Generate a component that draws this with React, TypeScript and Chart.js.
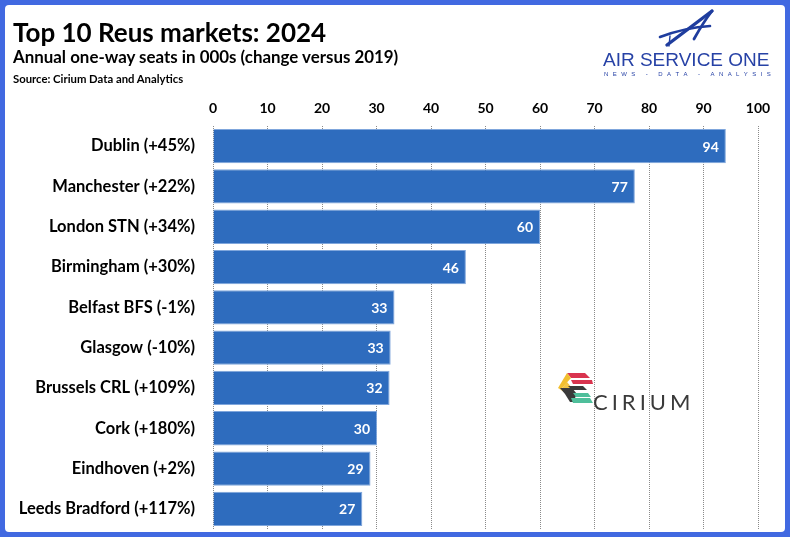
import React, { useEffect, useRef } from "react";
import { Chart, registerables } from "chart.js";

Chart.register(...registerables);

const categories = [
  "Dublin (+45%)",
  "Manchester (+22%)",
  "London STN (+34%)",
  "Birmingham (+30%)",
  "Belfast BFS (-1%)",
  "Glasgow (-10%)",
  "Brussels CRL (+109%)",
  "Cork (+180%)",
  "Eindhoven (+2%)",
  "Leeds Bradford (+117%)",
];
const seats = [94.1, 77.4, 60.0, 46.4, 33.3, 32.6, 32.4, 30.1, 28.9, 27.4];
const valueLabels = ["94", "77", "60", "46", "33", "33", "32", "30", "29", "27"];
const xMin = 0;
const xMax = 100;
const xStep = 10;

const FONT = "Lato, 'Open Sans', sans-serif";

const valueLabelPlugin = {
  id: "valueLabels",
  afterDatasetsDraw(chart: any) {
    const ctx = chart.ctx;
    const meta = chart.getDatasetMeta(0);
    ctx.save();
    ctx.font = `bold 14px ${FONT}`;
    ctx.fillStyle = "#ffffff";
    ctx.textAlign = "right";
    ctx.textBaseline = "middle";
    meta.data.forEach((el: any, i: number) => {
      ctx.fillText(valueLabels[i], el.x - 7, el.y + 1);
    });
    ctx.restore();
  },
};

function PlaneLogo() {
  return (
    <svg
      width="60"
      height="42"
      viewBox="0 0 60 42"
      style={{ position: "absolute", left: 656, top: 6 }}
    >
      <g fill="none" stroke="#1f3d9e" strokeLinecap="round" strokeLinejoin="round">
        <path d="M11 39 L56 5" strokeWidth="3.4" />
        <path d="M56 5 C49 14 43 24 38 33" strokeWidth="2.8" />
        <path d="M4 31 C20 25 38 21 54 20" strokeWidth="2.6" />
        <path d="M14 30 L13 40" strokeWidth="1.4" />
      </g>
    </svg>
  );
}

function CiriumIcon() {
  return (
    <svg
      width="36"
      height="32"
      viewBox="0 0 36 32"
      style={{ position: "absolute", left: 558, top: 372 }}
    >
      <polygon points="9,1 27,1 32,6 13,6" fill="#d9344f" />
      <polygon points="13,8 34,8 35,12 15,12" fill="#d9344f" />
      <polygon points="9,1 13,6 4,16 0,16" fill="#f2bf2f" />
      <polygon points="0,16 4,16 9,10 14,16 9,22" fill="#f2bf2f" opacity="0.9" />
      <polygon points="2,16 14,16 19,22 7,22" fill="#3a3a3a" />
      <polygon points="10,14 25,14 29,18 14,18" fill="#3a3a3a" />
      <polygon points="7,22 19,22 15,30 12,30" fill="#3a3a3a" />
      <polygon points="15,21 30,21 33,25 18,25" fill="#4fbf9b" />
      <polygon points="13,26 32,26 35,31 15,31" fill="#4fbf9b" />
    </svg>
  );
}

export default function App() {
  const canvasRef = useRef<HTMLCanvasElement | null>(null);

  useEffect(() => {
    if (!canvasRef.current) return;
    const chart = new Chart(canvasRef.current, {
      type: "bar",
      data: {
        labels: categories,
        datasets: [
          {
            data: seats,
            backgroundColor: "#2e6cbe",
            borderColor: "#7fa6dc",
            borderWidth: 1,
            barPercentage: 0.85,
            categoryPercentage: 1,
          },
        ],
      },
      options: {
        indexAxis: "y",
        responsive: false,
        animation: false,
        maintainAspectRatio: false,
        layout: { padding: { left: 0, top: 0, right: 32, bottom: 8 } },
        plugins: {
          legend: { display: false },
          tooltip: { enabled: false },
          title: { display: false },
        },
        scales: {
          x: {
            position: "top",
            min: xMin,
            max: xMax,
            ticks: {
              stepSize: xStep,
              color: "#000",
              font: { family: FONT, weight: "bold", size: 14 },
              padding: 9,
            },
            grid: {
              color: "#8a8a8a",
              lineWidth: 1,
              drawTicks: false,
            },
            border: { display: false, dash: [1, 1] },
            afterFit(scale: any) {
              scale.height = 126;
              scale.paddingLeft = 0;
              scale.paddingRight = 0;
            },
          },
          y: {
            type: "category",
            ticks: {
              color: "#000",
              font: { family: FONT, weight: "bold", size: 16.5 },
              padding: 18,
            },
            grid: { display: false, drawTicks: false },
            border: { display: false },
            afterFit(scale: any) {
              scale.width = 213;
              scale.paddingTop = 0;
              scale.paddingBottom = 0;
            },
          },
        },
      } as any,
      plugins: [valueLabelPlugin],
    });
    if ((document as any).fonts && (document as any).fonts.ready) {
      (document as any).fonts.ready.then(() => chart.update());
    }
    return () => chart.destroy();
  }, []);

  return (
    <div
      style={{
        position: "fixed",
        left: 0,
        top: 0,
        width: 790,
        height: 537,
        background: "#4169e1",
        overflow: "hidden",
      }}
    >
      <div
        style={{
          position: "absolute",
          left: 5,
          top: 5,
          width: 780,
          height: 527,
          background: "#ffffff",
          borderRadius: 4,
        }}
      />
      <canvas
        ref={canvasRef}
        width={790}
        height={537}
        style={{ position: "absolute", left: 0, top: 0, width: 790, height: 537 }}
      />
      <div
        style={{
          position: "absolute",
          left: 13,
          top: 18.5,
          fontFamily: FONT,
          fontWeight: 700,
          fontSize: 26,
          lineHeight: "26px",
          color: "#000",
          whiteSpace: "nowrap",
        }}
      >
        Top 10 Reus markets: 2024
      </div>
      <div
        style={{
          position: "absolute",
          left: 13,
          top: 48,
          fontFamily: FONT,
          fontWeight: 700,
          fontSize: 16.9,
          lineHeight: "17px",
          color: "#000",
          whiteSpace: "nowrap",
        }}
      >
        Annual one-way seats in 000s (change versus 2019)
      </div>
      <div
        style={{
          position: "absolute",
          left: 13,
          top: 72.8,
          fontFamily: FONT,
          fontWeight: 700,
          fontSize: 11.3,
          lineHeight: "11.5px",
          color: "#000",
          whiteSpace: "nowrap",
        }}
      >
        Source: Cirium Data and Analytics
      </div>
      <PlaneLogo />
      <div
        style={{
          position: "absolute",
          left: 603,
          top: 50,
          fontFamily: "'Liberation Sans', Arial, sans-serif",
          fontSize: 19,
          lineHeight: "19px",
          color: "#2742a6",
          whiteSpace: "nowrap",
        }}
      >
        AIR SERVICE ONE
      </div>
      <div
        style={{
          position: "absolute",
          left: 604,
          top: 70.5,
          width: 167,
          fontFamily: "'Liberation Sans', Arial, sans-serif",
          fontSize: 6,
          lineHeight: "7px",
          color: "#2742a6",
          whiteSpace: "nowrap",
          display: "flex",
          justifyContent: "space-between",
        }}
      >
        {"NEWS - DATA - ANALYSIS".split("").map((c, i) => (
          <span key={i}>{c === " " ? "\u00a0" : c}</span>
        ))}
      </div>
      <CiriumIcon />
      <div
        style={{
          position: "absolute",
          left: 593,
          top: 391,
          fontFamily: FONT,
          fontWeight: 400,
          fontSize: 22,
          lineHeight: "22px",
          letterSpacing: 4.0,
          color: "#3a3a3a",
          whiteSpace: "nowrap",
        }}
      >
        CIRIUM
      </div>
    </div>
  );
}
